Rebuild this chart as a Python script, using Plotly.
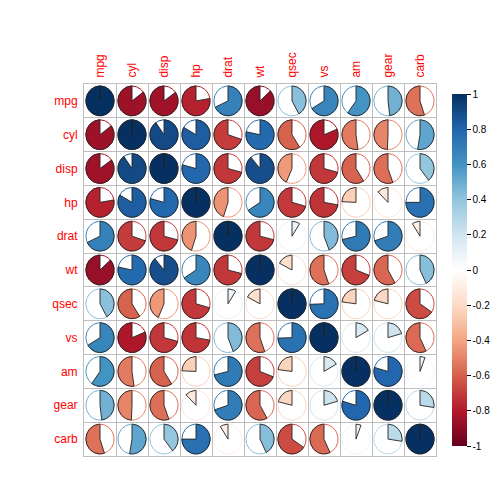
import numpy as np
import plotly.graph_objects as go
from plotly.colors import sample_colorscale

# mtcars correlation matrix
variables = ['mpg', 'cyl', 'disp', 'hp', 'drat', 'wt', 'qsec', 'vs', 'am', 'gear', 'carb']
corr = [
    [1.000, -0.852, -0.848, -0.776, 0.681, -0.868, 0.419, 0.664, 0.600, 0.480, -0.551],
    [-0.852, 1.000, 0.902, 0.832, -0.700, 0.782, -0.591, -0.811, -0.523, -0.493, 0.527],
    [-0.848, 0.902, 1.000, 0.791, -0.710, 0.888, -0.434, -0.710, -0.591, -0.556, 0.395],
    [-0.776, 0.832, 0.791, 1.000, -0.449, 0.659, -0.708, -0.723, -0.243, -0.126, 0.750],
    [0.681, -0.700, -0.710, -0.449, 1.000, -0.712, 0.091, 0.440, 0.713, 0.700, -0.091],
    [-0.868, 0.782, 0.888, 0.659, -0.712, 1.000, -0.175, -0.555, -0.692, -0.583, 0.428],
    [0.419, -0.591, -0.434, -0.708, 0.091, -0.175, 1.000, 0.745, -0.230, -0.213, -0.656],
    [0.664, -0.811, -0.710, -0.723, 0.440, -0.555, 0.745, 1.000, 0.168, 0.206, -0.570],
    [0.600, -0.523, -0.591, -0.243, 0.713, -0.692, -0.230, 0.168, 1.000, 0.794, 0.058],
    [0.480, -0.493, -0.556, -0.126, 0.700, -0.583, -0.213, 0.206, 0.794, 1.000, 0.274],
    [-0.551, 0.527, 0.395, 0.750, -0.091, 0.428, -0.656, -0.570, 0.058, 0.274, 1.000],
]
cbar_ticks = [1, 0.8, 0.6, 0.4, 0.2, 0, -0.2, -0.4, -0.6, -0.8, -1]

# RdBu palette used by corrplot
rdbu = ["#67001F", "#B2182B", "#D6604D", "#F4A582", "#FDDBC7", "#FFFFFF",
        "#D1E5F0", "#92C5DE", "#4393C3", "#2166AC", "#053061"]
colorscale = [[k / 10, c] for k, c in enumerate(rdbu)]

R = 0.44
theta_full = np.linspace(0, 2 * np.pi, 121)

fig = go.Figure()
for i, row in enumerate(corr):
    for j, r in enumerate(row):
        cx, cy = j + 1, i + 1
        col = sample_colorscale(colorscale, [(r + 1) / 2])[0]
        # outline circle in the cell colour
        fig.add_trace(go.Scatter(
            x=cx + R * np.sin(theta_full), y=cy - R * np.cos(theta_full),
            mode='lines', line=dict(color=col, width=1),
            hoverinfo='skip', showlegend=False))
        # pie wedge: clockwise for positive, counter-clockwise for negative
        th = np.linspace(0, 2 * np.pi * r, max(3, int(abs(r) * 120)))
        px = np.concatenate([[cx], cx + R * np.sin(th), [cx]])
        py = np.concatenate([[cy], cy - R * np.cos(th), [cy]])
        fig.add_trace(go.Scatter(
            x=px, y=py, mode='lines', fill='toself', fillcolor=col,
            line=dict(color='#222222', width=0.9),
            hoverinfo='skip', showlegend=False))

# colour bar
fig.add_trace(go.Scatter(
    x=[1], y=[1], mode='markers',
    marker=dict(color=[0], cmin=-1, cmax=1, colorscale=colorscale, opacity=0,
                showscale=True,
                colorbar=dict(x=1.016, xanchor='left', y=0.5, yanchor='middle',
                              len=1, lenmode='fraction', thickness=15,
                              outlinewidth=0, ticks='outside', ticklen=4,
                              tickcolor='black', tickvals=cbar_ticks,
                              ticktext=[str(t) for t in cbar_ticks],
                              tickfont=dict(size=10, color='black'))),
    hoverinfo='skip', showlegend=False))

axis_common = dict(
    showgrid=False, zeroline=False, ticks='', ticklen=0,
    showline=True, mirror=True, linecolor='#bebebe', linewidth=1,
    minor=dict(tick0=0.5, dtick=1, showgrid=True, gridcolor='#bebebe', gridwidth=1),
    tickfont=dict(size=12, color='red', family='Liberation Sans'),
)
fig.update_xaxes(range=[0.5, 11.5], side='top', tickmode='array',
                 tickvals=list(range(1, 12)), ticktext=variables, tickangle=-90,
                 ticklabelstandoff=3, **axis_common)
fig.update_yaxes(range=[11.5, 0.5], tickmode='array',
                 tickvals=list(range(1, 12)), ticktext=variables,
                 ticklabelstandoff=3, **axis_common)

fig.update_layout(
    width=504, height=504,
    margin=dict(l=76, r=56, t=76, b=56),
    plot_bgcolor='white', paper_bgcolor='white',
    font=dict(family='Liberation Sans'),
)

fig.write_html("out.html")
